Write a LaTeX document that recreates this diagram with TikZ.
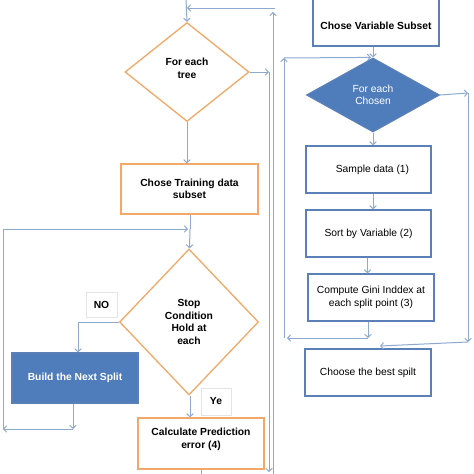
\documentclass[tikz,border=0pt]{standalone}
\usepackage{fontspec}
\setmainfont{Liberation Sans}
\usetikzlibrary{shapes.geometric,arrows.meta}
\definecolor{lineblue}{HTML}{8EA8CE}
\definecolor{boxblue}{HTML}{5B80B8}
\definecolor{fillblue}{HTML}{4F7DBC}
\definecolor{orangeb}{HTML}{F2A866}
\definecolor{lblgray}{HTML}{E4E4E4}
\tikzset{
  conn/.style={draw=lineblue, line width=1pt},
  arr/.style={conn, -{Straight Barb[length=3pt,width=6.5pt]}},
  obox/.style={draw=orangeb, line width=1.3pt, fill=white, align=center, inner sep=1pt,
     font=\fontsize{10.3}{12.5}\selectfont\bfseries},
  bbox/.style={draw=boxblue, line width=1.2pt, fill=white, align=center, inner sep=1pt,
     font=\fontsize{10.3}{12.5}\selectfont},
  odia/.style={diamond, draw=orangeb, line width=1.3pt, fill=white, align=center, inner sep=0pt,
     font=\fontsize{10.3}{12.5}\selectfont\bfseries},
  bdia/.style={diamond, draw=boxblue, line width=1.2pt, fill=fillblue, text=white, align=center,
     inner sep=0pt, font=\fontsize{10.3}{12.5}\selectfont},
  lbl/.style={draw=lblgray, line width=0.6pt, fill=white, inner sep=0pt,
     font=\fontsize{10.3}{12.5}\selectfont\bfseries}
}
\begin{document}
\begin{tikzpicture}[x=1pt,y=-1pt]
\useasboundingbox (0,0) rectangle (474,474);
\fill[white] (0,0) rectangle (474,474);

% left column
\node[odia, minimum width=124pt, minimum height=99pt] (d1) at (187,72) {For each\\tree\\[-5pt]};
\node[obox, minimum width=137pt, minimum height=50pt] (train) at (189.5,189) {Chose Training data\\subset};
\node[odia, minimum width=139pt, minimum height=146pt] (d2) at (189,322) {Stop\\Condition\\Hold at\\each};
\node[draw=boxblue, line width=1.2pt, fill=fillblue, text=white, minimum width=126pt, minimum height=50pt,
      font=\fontsize{10.3}{12.5}\selectfont\bfseries] (build) at (75,378) {Build the Next Split};
\node[obox, minimum width=126pt, minimum height=51pt] (calc) at (201,443.5) {Calculate Prediction\\error (4)\\[-2pt]};
\node[lbl, minimum width=31pt, minimum height=25pt] (no) at (101.5,304.5) {NO};
\node[lbl, minimum width=30pt, minimum height=27pt] (ye) at (216,401.5) {Ye};

% right column
\node[bbox, minimum width=126pt, minimum height=50pt, font=\fontsize{10.3}{12.5}\selectfont\bfseries] (vs) at (376,21) {\\[4pt]Chose Variable Subset};
\node[bdia, minimum width=133pt, minimum height=74pt] (d3) at (373,95) {For each\\Chosen};
\node[bbox, minimum width=125pt, minimum height=47pt] (sample) at (368.5,169.5) {\hspace*{8pt}Sample data (1)};
\node[bbox, minimum width=125pt, minimum height=47pt] (sort) at (368.5,233.5) {Sort by Variable (2)};
\node[bbox, minimum width=126pt, minimum height=47pt] (gini) at (371,297.5) {Compute Gini Inddex at\\each split point (3)};
\node[bbox, minimum width=126pt, minimum height=47pt] (best) at (368,372.5) {Choose the best spilt};

% coordinates
\coordinate (t0) at (186,-1);
\coordinate (tl) at (187,8);
\coordinate (tr) at (275,8);
\coordinate (up1) at (273,12);
\coordinate (upb) at (273,475);
\coordinate (r1) at (269,72);
\coordinate (r1b) at (269,472);
\coordinate (L0) at (3,229);
\coordinate (L1) at (3,429);
\coordinate (J) at (190,229);
\coordinate (B1) at (73,429);
\coordinate (cb) at (201,475);
\coordinate (P0) at (284,58);
\coordinate (P1) at (284,338);
\coordinate (P2) at (287,338);
\coordinate (G1) at (368,338);
\coordinate (Q0) at (468,93);
\coordinate (Q1) at (468,342);
\coordinate (Q2) at (380,346);

% left connectors
\draw[arr] (t0) -- (d1.north);
\draw[arr] (tr) -- (tl);
\draw[arr] (upb) -- (up1);
\draw[arr] (d1.east) -- (r1);
\draw[arr] (r1) -- (r1b);
\draw[arr] (d1.south) -- (d1.south |- train.north);
\draw[conn] ([xshift=0.5pt]train.south) -- ([xshift=0.5pt]train.south |- J);
\draw[arr] ([xshift=0.5pt]train.south |- J) -- ([xshift=0.5pt]d2.north);
\draw[arr] (L0) -- ([xshift=-2pt]J);
\draw[conn] (L0) -- (L1);
\draw[arr] ([xshift=-2pt]build.south) -- (B1);
\draw[arr] (B1) -- (L1);
\draw[arr] (d2.west) -| ([xshift=3pt]build.north);
\draw[arr] ([xshift=1pt]d2.south) -- ([xshift=1pt]d2.south |- calc.north);
\draw[conn] (calc.south) -- (cb);

% right connectors
\draw[arr] ([xshift=-3pt]vs.south) -- (d3.north);
\draw[arr] (d3.south) -- (d3.south |- sample.north);
\draw[arr] (d3.south |- sample.south) -- (d3.south |- sort.north);
\draw[arr] ([xshift=-1pt]sort.south) -- ([xshift=-1pt]sort.south |- gini.north);
\draw[arr] ([xshift=-3pt]gini.south) -- (G1);
\draw[arr] (G1) -- (P2);
\draw[arr] (P1) -- (P0);
\draw[arr] (P0) -- ([xshift=-2pt]d3.north);
\draw[arr] (d3.east) -- (Q0);
\draw[arr] (Q0) -- (Q1);
\draw[arr] (Q1) -- (Q2);
\end{tikzpicture}
\end{document}
